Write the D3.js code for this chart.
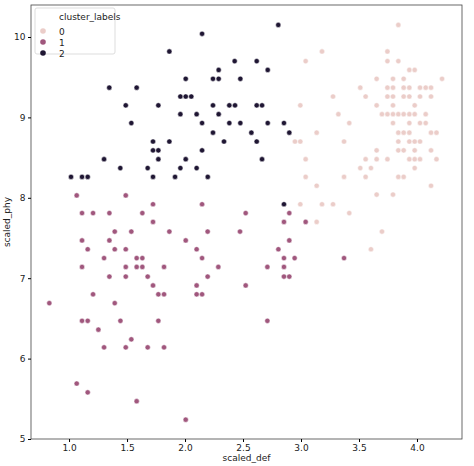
<!DOCTYPE html><html><head><meta charset="utf-8"><script src="https://cdn.jsdelivr.net/npm/d3@7"></script>
<style>body{margin:0;background:#fff}text{font-family:"DejaVu Sans",sans-serif}</style></head><body><svg id="c" width="474" height="466"></svg>
<script>
const xTicks=[1.0,1.5,2.0,2.5,3.0,3.5,4.0];
const yTicks=[5,6,7,8,9,10];
const labels=["0","1","2"];
const colors=["#ebcdc9","#a0577d","#1f1633"];
// cluster 2
const c2x=[2.147,1.865,2.428,2.29,2.006,2.241,2.29,2.477,1.347,1.583,1.96,2.006,2.054,1.489,1.77,2.241,2.382,2.431,1.96,2.10,2.29,1.537,2.147,2.382,2.477,2.241,1.724,1.865,2.336,1.724,1.77,2.147,1.302,1.77,2.006,1.442,1.678,1.96,2.10,1.017,1.112,1.161,1.724,1.914,2.196,2.804,2.618,2.713,2.618,2.664,2.713,2.853,2.572,2.899,2.618,2.664,2.853];
const c2y=[10.04,9.82,9.70,9.59,9.48,9.48,9.48,9.48,9.37,9.37,9.26,9.26,9.26,9.15,9.15,9.15,9.15,9.15,9.04,9.04,9.04,8.93,8.93,8.93,8.93,8.81,8.70,8.70,8.70,8.59,8.59,8.59,8.48,8.48,8.48,8.37,8.37,8.37,8.37,8.26,8.26,8.26,8.26,8.26,8.26,10.15,9.70,9.59,9.15,9.15,8.93,8.93,8.81,8.81,8.70,8.48,7.92];
// cluster 0
const c0x=[3.839,3.181,3.745,3.04,3.745,3.839,3.934,3.98,3.652,3.793,3.885,4.216,3.511,3.745,3.793,3.885,3.934,4.026,4.075,4.121,3.276,3.557,3.745,3.793,3.885,3.934,4.026,4.121,2.994,3.652,3.793,3.98,3.322,3.698,3.745,3.793,3.839,3.885,3.934,3.98,4.075,3.416,3.793,3.934,4.026,4.075,3.135,3.839,3.885,3.934,4.121,4.168,2.948,2.994,3.371,3.839,3.934,3.98,4.026,3.652,3.839,3.885,3.98,4.121,3.04,3.557,3.652,3.745,3.934,3.98,4.026,4.168,3.511,3.603,3.98,3.04,3.371,3.557,3.839,3.885,3.135,4.121,3.652,3.793,2.994,3.181,3.276,3.416,3.135,3.698,3.603];
const c0y=[10.15,9.82,9.82,9.70,9.70,9.70,9.59,9.59,9.48,9.48,9.48,9.48,9.37,9.37,9.37,9.37,9.37,9.37,9.37,9.37,9.26,9.26,9.26,9.26,9.26,9.26,9.26,9.26,9.15,9.15,9.15,9.15,9.04,9.04,9.04,9.04,9.04,9.04,9.04,9.04,9.04,8.93,8.93,8.93,8.93,8.93,8.81,8.81,8.81,8.81,8.81,8.81,8.70,8.70,8.70,8.70,8.70,8.70,8.70,8.59,8.59,8.59,8.59,8.59,8.48,8.48,8.48,8.48,8.48,8.48,8.48,8.48,8.37,8.37,8.37,8.26,8.26,8.26,8.26,8.26,8.15,8.15,8.04,8.04,7.92,7.92,7.92,7.81,7.70,7.58,7.36];
// cluster 1
const c1x=[1.066,1.489,1.724,2.147,1.112,1.207,1.348,1.632,2.523,2.899,1.724,2.853,3.04,1.394,1.537,1.865,2.195,2.474,1.112,1.348,2.006,2.899,1.161,1.394,1.489,2.10,2.805,1.302,1.583,1.632,2.147,2.853,2.945,3.371,1.112,1.489,1.583,1.632,1.819,2.287,2.71,2.853,1.348,1.489,1.678,2.195,2.853,2.899,1.724,2.10,2.523,1.207,1.77,1.819,2.10,2.147,0.83,1.394,1.112,1.161,1.443,1.77,2.71,1.253,1.537,1.302,1.489,1.678,1.819,1.066,1.161,1.583,2.006];
const c1y=[8.03,8.03,7.92,7.92,7.81,7.81,7.81,7.81,7.81,7.81,7.70,7.70,7.70,7.58,7.58,7.58,7.58,7.58,7.47,7.47,7.47,7.47,7.36,7.36,7.36,7.36,7.36,7.25,7.25,7.25,7.25,7.25,7.25,7.25,7.14,7.14,7.14,7.14,7.14,7.14,7.14,7.14,7.02,7.02,7.02,7.02,7.02,7.02,6.91,6.91,6.91,6.80,6.80,6.80,6.80,6.80,6.69,6.69,6.47,6.47,6.47,6.47,6.47,6.36,6.24,6.14,6.14,6.14,6.14,5.69,5.58,5.47,5.24];

const svg=d3.select("#c");
const L=31,R=462,T=5,B=439;
const x=d3.scaleLinear().domain([0.672,4.388]).range([L,R]);
const y=d3.scaleLinear().domain([5.0,10.398]).range([B,T]);
const series=[[c0x,c0y],[c1x,c1y],[c2x,c2y]];
series.forEach((s,i)=>{
  svg.append("g").selectAll("circle").data(d3.range(s[0].length)).join("circle")
   .attr("cx",j=>x(s[0][j])).attr("cy",j=>y(s[1][j])).attr("r",2.6)
   .attr("fill",colors[i]).attr("stroke","#fff").attr("stroke-width",0.5);
});
svg.append("rect").attr("x",L).attr("y",T).attr("width",R-L).attr("height",B-T).attr("fill","none").attr("stroke","#444").attr("stroke-width",0.8);
const xa=svg.append("g").attr("transform",`translate(0,${B})`).call(d3.axisBottom(x).tickValues(xTicks).tickFormat(d3.format(".1f")).tickSize(3).tickPadding(2.5));
const ya=svg.append("g").attr("transform",`translate(${L},0)`).call(d3.axisLeft(y).tickValues(yTicks).tickFormat(d3.format("d")).tickSize(3).tickPadding(2.5));
[xa,ya].forEach(a=>{a.select(".domain").remove();a.selectAll("text").attr("font-size",9).attr("fill","#222").style("font-family","DejaVu Sans");});
svg.append("text").attr("x",(L+R)/2).attr("y",461).attr("text-anchor","middle").attr("font-size",9).attr("fill","#222").text("scaled_def");
svg.append("text").attr("transform",`translate(10,${(T+B)/2}) rotate(-90)`).attr("text-anchor","middle").attr("font-size",9).attr("fill","#222").text("scaled_phy");
const lg=svg.append("g").attr("transform","translate(35,8)");
lg.append("rect").attr("width",48+32).attr("height",46).attr("rx",2).attr("fill","#fff").attr("fill-opacity",0.8).attr("stroke","#ddd");
lg.append("text").attr("x",24).attr("y",12).attr("font-size",9).attr("fill","#222").text("cluster_labels");
labels.forEach((l,i)=>{
  lg.append("circle").attr("cx",8).attr("cy",23+i*11).attr("r",2.8).attr("fill",colors[i]);
  lg.append("text").attr("x",24).attr("y",26.5+i*11).attr("font-size",9).attr("fill","#222").text(l);
});
</script></body></html>
